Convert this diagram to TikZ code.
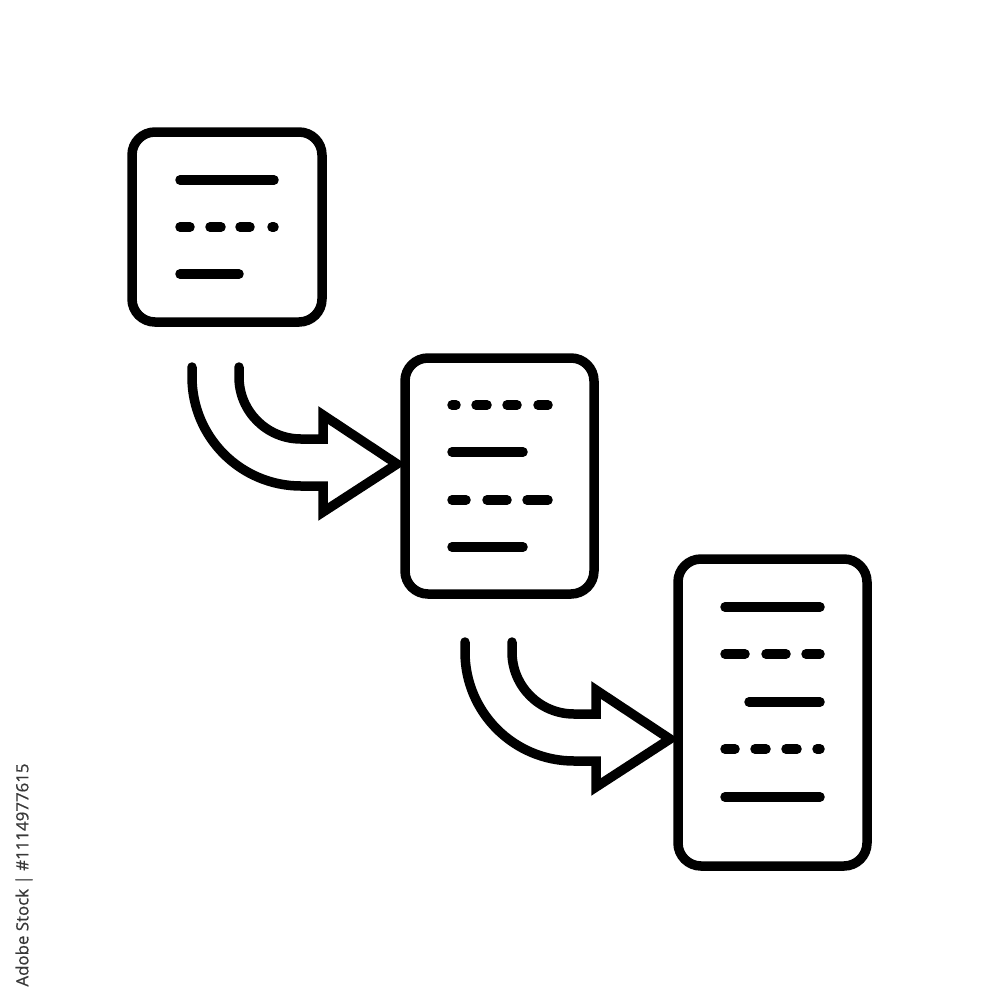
\documentclass[tikz,border=0pt]{standalone}
\usepackage{fontspec}
\newfontfamily\idfont[FakeBold=0.6]{Open Sans}
\usetikzlibrary{calc}
\begin{document}
\begin{tikzpicture}[x=0.1mm,y=-0.1mm,
  stroke/.style={line width=0.95mm, black},
  docbox/.style={stroke, draw, rounded corners=2.3mm, inner sep=0pt, outer sep=0pt},
  textline/.style={stroke, line cap=round},
  flowarrow/.style={stroke, line cap=round, line join=miter}]
\useasboundingbox (0,0) rectangle (1000,1000);
\fill[white] (0,0) rectangle (1000,1000);
% boxes
\node[docbox, minimum width=19mm, minimum height=19mm] (b1) at (227,227) {};
\node[docbox, minimum width=18.9mm, minimum height=23.6mm] (b2) at (499.5,476) {};
\node[docbox, minimum width=18.9mm, minimum height=30.7mm] (b3) at (772.5,712.5) {};
% box 1 lines
\draw[textline] (180,180) -- (274,180);
\draw[textline] (180,227) -- (190,227) (210,227) -- (221,227) (240,227) -- (250,227) (272,227) -- (274,227);
\draw[textline] (180,274) -- (239,274);
% box 2 lines
\draw[textline] (452,405) -- (456,405) (476,405) -- (487,405) (507,405) -- (517,405) (538,405) -- (548,405);
\draw[textline] (452,452) -- (523,452);
\draw[textline] (452,500) -- (466,500) (487,500) -- (507,500) (527,500) -- (548,500);
\draw[textline] (452,547) -- (523,547);
% box 3 lines
\draw[textline] (725,607) -- (820,607);
\draw[textline] (725,654) -- (745,654) (766,654) -- (786,654) (806,654) -- (820,654);
\draw[textline] (749,702) -- (820,702);
\draw[textline] (725,749) -- (735,749) (755,749) -- (766,749) (786,749) -- (797,749) (817,749) -- (820,749);
\draw[textline] (725,797) -- (820,797);
% arrow tips
\coordinate (t1) at ($(b2.west)+(-8,-12)$);
\coordinate (t2) at ($(b3.west)+(-8,26.5)$);
\foreach \t in {t1,t2}{
  \draw[flowarrow, shift={(\t)}] (-158,-97) -- (-158,-87)
    arc[start angle=180, end angle=90, radius=62] -- (-74,-25) -- (-74,-49)
    -- (0,0) -- (-74,48) -- (-74,22) -- (-96,22)
    arc[start angle=90, end angle=180, radius=109] -- (-205,-97);
}
% vertical id text
\node[rotate=90, inner sep=0pt, text=black!78, font=\idfont\fontsize{4.8pt}{6pt}\selectfont] (idtext) at (24,875) {Adobe Stock | \#1114977615};
\end{tikzpicture}
\end{document}
